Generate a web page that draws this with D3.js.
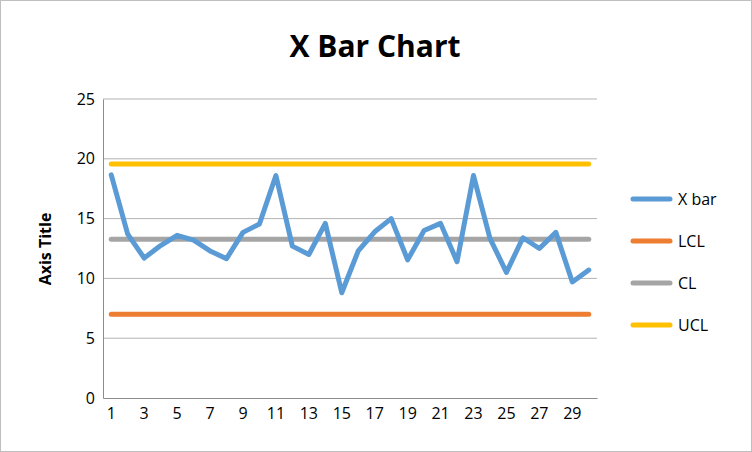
<!DOCTYPE html>
<html><head><meta charset="utf-8">
<script src="https://cdn.jsdelivr.net/npm/d3@7"></script>
<style>body{margin:0;background:#fff;font-family:"Open Sans",sans-serif;}</style>
</head><body><div id="chart"></div>
<script>
const samples = d3.range(1, 31);
const xbar = [18.66,13.7,11.7,12.75,13.6,13.2,12.3,11.65,13.85,14.55,18.6,12.7,12.0,14.6,8.8,
  12.3,13.9,15.0,11.55,14.0,14.6,11.4,18.6,13.35,10.5,13.4,12.5,13.85,9.7,10.7];
const UCL = 19.56, CL = 13.27, LCL = 7.0;
const yTicks = [0,5,10,15,20,25];
const xTicks = d3.range(1, 31, 2);
const series = [
  {name:"X bar", color:"#5b9bd5", vals: xbar},
  {name:"LCL", color:"#ed7d31", vals: samples.map(() => LCL)},
  {name:"CL", color:"#a5a5a5", vals: samples.map(() => CL)},
  {name:"UCL", color:"#ffc000", vals: samples.map(() => UCL)}
];

const W = 752, H = 452;
const m = {left:103, right:597, top:99, bottom:398};
const svg = d3.select("#chart").append("svg").attr("width", W).attr("height", H);
svg.append("rect").attr("x",0.5).attr("y",0.5).attr("width",W-1).attr("height",H-1)
  .attr("fill","#fff").attr("stroke","#bfbfbf");

const x = d3.scaleBand().domain(samples).range([m.left, m.right]);
const xc = d => x(d) + x.bandwidth()/2;
const y = d3.scaleLinear().domain([0,25]).range([m.bottom, m.top]);

// gridlines
svg.append("g").selectAll("line").data(yTicks.slice(1)).join("line")
  .attr("x1", m.left).attr("x2", m.right).attr("y1", d => y(d)).attr("y2", d => y(d))
  .attr("stroke","#b3b3b3").attr("stroke-width",1);

// y axis
const ya = svg.append("g").attr("transform",`translate(${m.left},0)`)
  .call(d3.axisLeft(y).tickValues(yTicks).tickSize(0).tickPadding(8));
ya.select(".domain").attr("stroke","#8c8c8c");
ya.selectAll("text").style("font-size","16px").style("font-family","Open Sans").attr("fill","#000");

// x axis
const xa = svg.append("g").attr("transform",`translate(0,${m.bottom})`)
  .call(d3.axisBottom(x).tickValues(xTicks).tickSize(0).tickPadding(10));
xa.select(".domain").attr("stroke","#8c8c8c");
xa.selectAll("text").style("font-size","16px").style("font-family","Open Sans").attr("fill","#000");

const line = d3.line().x((v,i) => xc(samples[i])).y(v => y(v));
svg.append("g").selectAll("path").data(series.slice().reverse()).join("path")
  .attr("d", d => line(d.vals)).attr("fill","none").attr("stroke", d => d.color)
  .attr("stroke-width",5).attr("stroke-linecap","round").attr("stroke-linejoin","round");

// title
svg.append("text").attr("x",375).attr("y",57).attr("text-anchor","middle")
  .style("font-size","30px").style("font-weight","bold").text("X Bar Chart");
svg.append("text").attr("transform","translate(51,249) rotate(-90)").attr("text-anchor","middle")
  .style("font-size","16px").style("font-weight","bold").text("Axis Title");

// legend
const lg = svg.append("g").selectAll("g").data(series).join("g")
  .attr("transform",(d,i) => `translate(633,${199 + i*42})`);
lg.append("line").attr("x1",0).attr("x2",37).attr("stroke",d => d.color)
  .attr("stroke-width",5).attr("stroke-linecap","round");
lg.append("text").attr("x",45).attr("dy","0.35em").style("font-size","16px").text(d => d.name);
</script></body></html>
